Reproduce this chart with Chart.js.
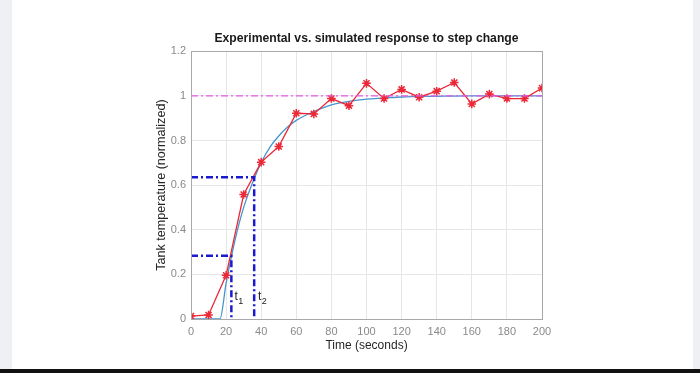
<!DOCTYPE html>
<html>
<head>
<meta charset="utf-8">
<script src="https://cdn.jsdelivr.net/npm/chart.js@4.4.1/dist/chart.umd.min.js"></script>
<style>
  html, body { margin: 0; padding: 0; background: #ffffff; }
  #wrap { position: relative; width: 700px; height: 373px; overflow: hidden; }
  #leftStrip  { position: absolute; left: 0; top: 0; width: 12px; height: 369px; background: #eef0f4; }
  #rightStrip { position: absolute; right: 0; top: 0; width: 7px; height: 369px; background: #eef0f4; }
  #bottomBar  { position: absolute; left: 0; bottom: 0; width: 700px; height: 4px; background: #111111; }
  canvas { position: absolute; left: 0; top: 0; }
</style>
</head>
<body>
<div id="wrap">
  <div id="leftStrip"></div>
  <div id="rightStrip"></div>
  <div id="bottomBar"></div>
  <canvas id="stepChart" width="700" height="373"></canvas>
</div>
<script>
// experimental data (red asterisks)
const expTime  = [0, 10, 20, 30, 40, 50, 60, 70, 80, 90, 100, 110, 120, 130, 140, 150, 160, 170, 180, 190, 200]
const expTemp  = [0.013, 0.018, 0.196, 0.558, 0.703, 0.773, 0.922, 0.919, 0.988, 0.956, 1.056, 0.988, 1.029, 0.994, 1.021, 1.060, 0.964, 1.008, 0.988, 0.988, 1.035]

// simulated response (blue curve)
const simTime  = [0, 16.5, 20, 25, 30, 35, 40, 45, 50, 55, 60, 70, 80, 90, 100, 110, 120, 140, 160, 180, 200]
const simTemp  = [0, 0, 0.16, 0.35, 0.50, 0.61, 0.70, 0.77, 0.82, 0.86, 0.89, 0.93, 0.96, 0.975, 0.985, 0.99, 0.995, 0.998, 1.0, 1.0, 1.0]

// final value reference line
const refTime  = [0, 200]
const refTemp  = [1, 1]

// t1 / t2 construction lines
const t1Time   = [0, 23, 23]
const t1Temp   = [0.284, 0.284, 0]
const t2Time   = [0, 36, 36]
const t2Temp   = [0.635, 0.635, 0]

// t labels
const tLabels  = [{ sub: '1', x: 24.8, y: 0.1 }, { sub: '2', x: 38.2, y: 0.1 }]

const xTicks = [0, 20, 40, 60, 80, 100, 120, 140, 160, 180, 200]
const yTicks = ['0', '0.2', '0.4', '0.6', '0.8', '1', '1.2']

const toPoints = (xs, ys) => xs.map((x, i) => ({ x: x, y: ys[i] }))

// frame + t labels
const framePlugin = {
  id: 'frame',
  afterDatasetsDraw(chart) {
    const { ctx, chartArea: a, scales } = chart
    ctx.save()
    ctx.strokeStyle = '#a8a8a8'
    ctx.lineWidth = 1
    ctx.strokeRect(Math.round(a.left) + 0.5, Math.round(a.top) + 0.5,
      Math.round(a.right - a.left), Math.round(a.bottom - a.top))

    ctx.fillStyle = '#222222'
    ctx.textBaseline = 'middle'
    tLabels.forEach(l => {
      const px = scales.x.getPixelForValue(l.x)
      const py = scales.y.getPixelForValue(l.y)
      ctx.font = '12px "Liberation Sans", Arial, sans-serif'
      ctx.fillText('t', px, py)
      const w = ctx.measureText('t').width
      ctx.font = '9px "Liberation Sans", Arial, sans-serif'
      ctx.fillText(l.sub, px + w + 0.5, py + 5)
    })
    ctx.restore()
  }
}

const ctx = document.getElementById('stepChart').getContext('2d')

let chart_data = {
  datasets: [
    {
      label: 'Simulated',
      data: toPoints(simTime, simTemp),
      borderColor: 'rgb(70, 150, 205)',
      borderWidth: 1.3,
      pointRadius: 0,
      cubicInterpolationMode: 'monotone',
      fill: false,
      order: 4
    },
    {
      label: 'Experimental',
      data: toPoints(expTime, expTemp),
      borderColor: 'rgb(235, 40, 55)',
      backgroundColor: 'rgb(235, 40, 55)',
      borderWidth: 1.3,
      pointStyle: 'star',
      pointRadius: 4.3,
      pointBorderWidth: 1.5,
      tension: 0,
      fill: false,
      order: 3
    },
    {
      label: 'Final value',
      data: toPoints(refTime, refTemp),
      borderColor: 'rgb(230, 90, 230)',
      borderWidth: 1.3,
      borderDash: [7, 3, 2, 3],
      pointRadius: 0,
      fill: false,
      order: 2
    },
    {
      label: 't1',
      data: toPoints(t1Time, t1Temp),
      borderColor: 'rgb(25, 25, 205)',
      borderWidth: 2.5,
      borderDash: [7, 3, 2, 3],
      pointRadius: 0,
      fill: false,
      order: 1
    },
    {
      label: 't2',
      data: toPoints(t2Time, t2Temp),
      borderColor: 'rgb(25, 25, 205)',
      borderWidth: 2.5,
      borderDash: [7, 3, 2, 3],
      pointRadius: 0,
      fill: false,
      order: 0
    }
  ]
}

let scales_chart = {
  x: {
    type: 'linear',
    min: 0,
    max: 200,
    afterFit: scale => { scale.height = 34 },
    afterBuildTicks: scale => { scale.ticks = xTicks.map(v => ({ value: v })) },
    title: {
      display: true,
      text: 'Time (seconds)',
      color: '#262626',
      padding: { top: 0, bottom: 0 },
      font: { family: '"Liberation Sans", Arial, sans-serif', size: 12 }
    },
    grid: { color: '#e6e6e6', drawTicks: false },
    border: { display: false },
    ticks: {
      color: '#8a8a8a',
      padding: 6,
      maxRotation: 0,
      font: { family: '"Liberation Sans", Arial, sans-serif', size: 11 },
      callback: value => String(value)
    }
  },
  y: {
    type: 'linear',
    min: 0,
    max: 1.2,
    afterFit: scale => { scale.width = 37 },
    afterBuildTicks: scale => { scale.ticks = yTicks.map(v => ({ value: parseFloat(v) })) },
    title: {
      display: true,
      text: 'Tank temperature (normalized)',
      color: '#262626',
      padding: { top: 0, bottom: 0 },
      font: { family: '"Liberation Sans", Arial, sans-serif', size: 12.6 }
    },
    grid: { color: '#e6e6e6', drawTicks: false },
    border: { display: false },
    ticks: {
      color: '#8a8a8a',
      padding: 5,
      font: { family: '"Liberation Sans", Arial, sans-serif', size: 11 },
      callback: (value, i) => yTicks[i]
    }
  }
}

new Chart(ctx, {
  type: 'line',
  data: chart_data,
  options: {
    responsive: false,
    animation: false,
    devicePixelRatio: 1,
    layout: { padding: { left: 154, right: 158, top: 31, bottom: 20 } },
    plugins: {
      legend: { display: false },
      tooltip: { enabled: false },
      title: {
        display: true,
        fullSize: false,
        text: 'Experimental vs. simulated response to step change',
        color: '#1a1a1a',
        padding: { top: 0, bottom: 5.6 },
        font: { family: '"Liberation Sans", Arial, sans-serif', size: 12.2, weight: 'bold' }
      }
    },
    scales: scales_chart
  },
  plugins: [framePlugin]
})
</script>
</body>
</html>
